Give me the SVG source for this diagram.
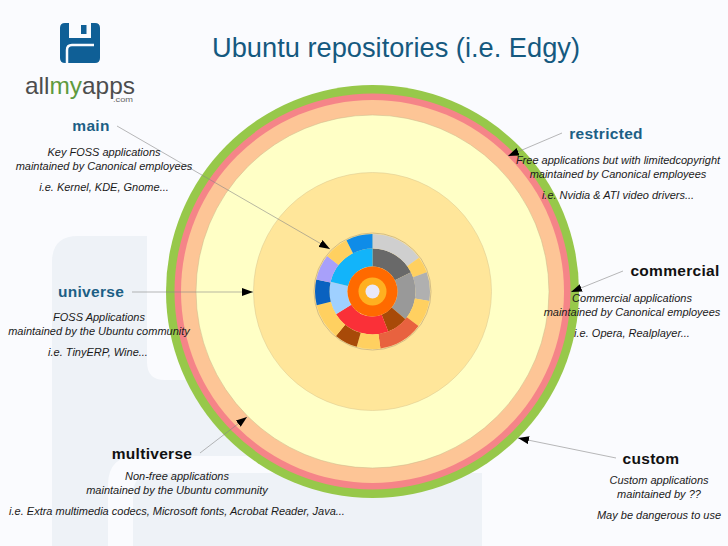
<svg xmlns="http://www.w3.org/2000/svg" width="728" height="546" viewBox="0 0 728 546">
<defs>
<style>
text{font-family:"Liberation Sans",Arial,sans-serif}
.h{font-size:15.500px;font-weight:bold;text-anchor:middle;fill:#1c5f85;letter-spacing:.3px}
.k{fill:#111}
.d{font-size:11px;font-style:italic;text-anchor:middle;fill:#1a1a1a}
.c{stroke:#888;stroke-width:.6;fill:none;marker-end:url(#a)}
.s{fill:none;transform:rotate(-90deg);transform-origin:372.500px 291.500px}
.i{stroke-width:18}
.o{stroke-width:14.500}
.g{stroke:#ffd060}
</style>
<marker id="a" markerUnits="userSpaceOnUse" markerWidth="12" markerHeight="8" refX="11" refY="4" orient="auto"><path d="M0 0L11 4L0 8Z" fill="#000"/></marker>
</defs>
<rect width="728" height="546" fill="#fafbfe"/>
<g id="watermark">
<path fill="#eef2f7" d="M52 262Q52 236 78 236H147V362Q147 380 165 380H482V546H52Z"/>
<path fill="#fafbfe" d="M108 546V485Q108 456 137 456H482V473H155Q133 473 133 495V546Z"/>
</g>
<g id="logo">
<path fill="#0f5f96" d="M65 23H69V38H91V23H95Q100 23 100 28V58Q100 63 95 63H65Q60 63 60 58V28Q60 23 65 23Z"/>
<rect x="81" y="25" width="5.500" height="9" fill="#0f5f96"/>
<path d="M67 63V50Q67 45 72 45H94" fill="none" stroke="#fafbfe" stroke-width="2.500"/>
<text x="25" y="94" font-size="24" fill="#4d4d4d" textLength="110" lengthAdjust="spacingAndGlyphs">all<tspan fill="#5f9a3e">my</tspan>apps</text>
<text x="113" y="102" font-size="7" fill="#666" textLength="20" lengthAdjust="spacingAndGlyphs">.com</text>
</g>
<text id="title" x="396" y="56.500" font-size="27" text-anchor="middle" fill="#15597f" textLength="368" lengthAdjust="spacingAndGlyphs">Ubuntu repositories (i.e. Edgy)</text>
<g id="rings">
<circle id="custom-ring" cx="372.500" cy="291.500" r="206.500" fill="#97c84a"/>
<circle id="commercial-ring" cx="372.500" cy="291.500" r="198" fill="#f58488"/>
<circle id="restricted-ring" cx="372.500" cy="291.500" r="191.500" fill="#fdc596"/>
<circle id="multiverse-ring" cx="372.500" cy="291.500" r="176.500" fill="#ffffc6" stroke="#c9b88a" stroke-width=".5"/>
<circle id="universe-ring" cx="372.500" cy="291.500" r="119" fill="#ffe69a" stroke="#d8c48e" stroke-width=".5"/>
<circle id="main-disc" cx="372.500" cy="291.500" r="58.500" fill="#ffe69a" stroke="#d4bd85" stroke-width="1"/>
</g>
<g id="main-sectors">
<circle class="s i" pathLength="360" cx="372.500" cy="291.500" r="34" stroke="#696969" stroke-dasharray="63.500 360"/>
<circle class="s i" pathLength="360" cx="372.500" cy="291.500" r="34" stroke="#999" stroke-dasharray="66.500 360" stroke-dashoffset="-63.500"/>
<circle class="s i" pathLength="360" cx="372.500" cy="291.500" r="34" stroke="#a84a08" stroke-dasharray="28.500 360" stroke-dashoffset="-130"/>
<circle class="s i" pathLength="360" cx="372.500" cy="291.500" r="34" stroke="#fa3038" stroke-dasharray="79.500 360" stroke-dashoffset="-158.500"/>
<circle class="s i" pathLength="360" cx="372.500" cy="291.500" r="34" stroke="#9fd0ff" stroke-dasharray="45 360" stroke-dashoffset="-238"/>
<circle class="s i" pathLength="360" cx="372.500" cy="291.500" r="34" stroke="#12b4fa" stroke-dasharray="77 360" stroke-dashoffset="-283"/>
<circle class="s o" pathLength="360" cx="372.500" cy="291.500" r="50.250" stroke="#cfcfcf" stroke-dasharray="54 360"/>
<circle class="s o g" pathLength="360" cx="372.500" cy="291.500" r="50.250" stroke-dasharray="16.500 360" stroke-dashoffset="-54"/>
<circle class="s o" pathLength="360" cx="372.500" cy="291.500" r="50.250" stroke="#b0b0b0" stroke-dasharray="29 360" stroke-dashoffset="-70.500"/>
<circle class="s o g" pathLength="360" cx="372.500" cy="291.500" r="50.250" stroke-dasharray="27.500 360" stroke-dashoffset="-99.500"/>
<circle class="s o" pathLength="360" cx="372.500" cy="291.500" r="50.250" stroke="#e8623f" stroke-dasharray="45 360" stroke-dashoffset="-127"/>
<circle class="s o g" pathLength="360" cx="372.500" cy="291.500" r="50.250" stroke-dasharray="24 360" stroke-dashoffset="-172"/>
<circle class="s o" pathLength="360" cx="372.500" cy="291.500" r="50.250" stroke="#a84a08" stroke-dasharray="23.500 360" stroke-dashoffset="-196"/>
<circle class="s o g" pathLength="360" cx="372.500" cy="291.500" r="50.250" stroke-dasharray="36.500 360" stroke-dashoffset="-219.500"/>
<circle class="s o" pathLength="360" cx="372.500" cy="291.500" r="50.250" stroke="#0a62c0" stroke-dasharray="26 360" stroke-dashoffset="-256"/>
<circle class="s o" pathLength="360" cx="372.500" cy="291.500" r="50.250" stroke="#a8a0fa" stroke-dasharray="26 360" stroke-dashoffset="-282"/>
<circle class="s o g" pathLength="360" cx="372.500" cy="291.500" r="50.250" stroke-dasharray="25 360" stroke-dashoffset="-308"/>
<circle class="s o" pathLength="360" cx="372.500" cy="291.500" r="50.250" stroke="#0f8ce8" stroke-dasharray="27 360" stroke-dashoffset="-333"/>
<circle cx="372.500" cy="291.500" r="25" fill="#ff6a00"/>
<circle cx="372.500" cy="291.500" r="14" fill="#ffb020"/>
<circle cx="372.500" cy="291.500" r="7" fill="#e9e9fb"/>
</g>
<g id="connectors">
<path class="c" d="M117 126L330 249"/>
<path class="c" d="M562 133L508 156"/>
<path class="c" d="M623 271L571 292"/>
<path class="c" d="M132 292L253 292"/>
<path class="c" d="M200 453L247 417"/>
<path class="c" d="M616 458L518 438"/>
</g>
<g id="label-main"><text class="h" x="91" y="131">main</text><text class="d" x="104" y="156">Key FOSS applications</text><text class="d" x="104" y="170">maintained by Canonical employees</text><text class="d" x="104" y="191">i.e. Kernel, KDE, Gnome...</text></g>
<g id="label-restricted"><text class="h" x="606" y="139">restricted</text><text class="d" x="618" y="164">Free applications but with limitedcopyright</text><text class="d" x="618" y="178">maintained by Canonical employees</text><text class="d" x="618" y="199">i.e. Nvidia &amp; ATI video drivers...</text></g>
<g id="label-commercial"><text class="h k" x="675" y="276">commercial</text><text class="d" x="632" y="302">Commercial applications</text><text class="d" x="632" y="316">maintained by Canonical employees</text><text class="d" x="632" y="337">i.e. Opera, Realplayer...</text></g>
<g id="label-universe"><text class="h" x="91" y="297">universe</text><text class="d" x="99" y="321">FOSS Applications</text><text class="d" x="99" y="335">maintained by the Ubuntu community</text><text class="d" x="98" y="356">i.e. TinyERP, Wine...</text></g>
<g id="label-multiverse"><text class="h k" x="152" y="459">multiverse</text><text class="d" x="177" y="480">Non-free applications</text><text class="d" x="177" y="494">maintained by the Ubuntu community</text><text class="d" x="177" y="515">i.e. Extra multimedia codecs, Microsoft fonts, Acrobat Reader, Java...</text></g>
<g id="label-custom"><text class="h k" x="651" y="464">custom</text><text class="d" x="659" y="484">Custom applications</text><text class="d" x="659" y="498">maintained by ??</text><text class="d" x="659" y="519">May be dangerous to use</text></g>
</svg>
